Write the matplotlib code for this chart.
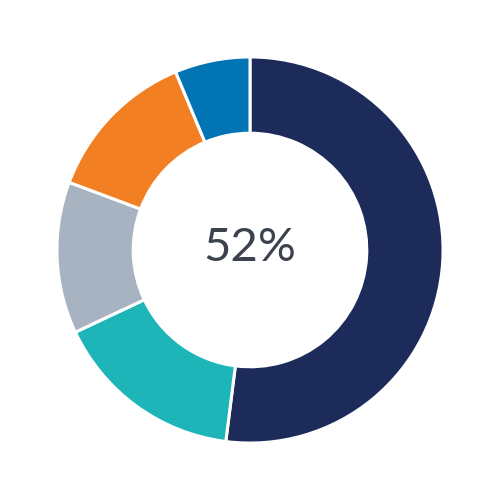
import matplotlib.pyplot as plt

labels = ["Navy", "Teal", "Gray", "Orange", "Blue"]
values = [52, 16, 12.7, 13, 6.3]
colors = ["#1c2b5a", "#1db5b8", "#a8b3c1", "#f28022", "#0174b4"]
center_text = "52%"

fig = plt.figure(figsize=(5, 5), dpi=100)
ax = fig.add_axes([0, 0, 1, 1])
ax.pie(values, colors=colors, startangle=90, counterclock=False,
       radius=1.0,
       wedgeprops=dict(width=0.395, edgecolor="white", linewidth=2.2))
ax.text(0, 0.01, center_text, ha="center", va="center",
        fontsize=34, color="#3b424d", family=["Lato", "DejaVu Sans"])
ax.set_xlim(-1.295, 1.295)
ax.set_ylim(-1.295, 1.295)
ax.set_aspect("equal")
ax.axis("off")
fig.savefig("out.png", dpi=100, facecolor="white")
